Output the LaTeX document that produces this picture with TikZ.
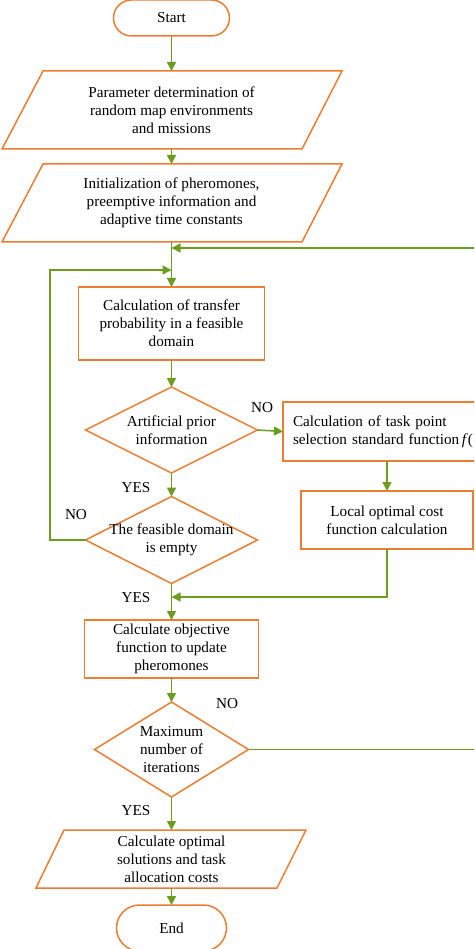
\documentclass[tikz,border=0pt]{standalone}
\usepackage{fontspec}
\setmainfont{Liberation Serif}
\usetikzlibrary{shapes.geometric,arrows.meta}
\definecolor{obr}{RGB}{237,125,49}
\definecolor{grn}{RGB}{107,158,31}
\begin{document}
\begin{tikzpicture}[x=1pt,y=-1pt,
  txt/.style={font=\fontsize{15.2}{18}\selectfont, align=center, inner sep=0pt, outer sep=0pt},
  shp/.style={draw=obr, line width=1.5pt, line join=miter},
  term/.style={txt, draw=obr, line width=1.5pt, rectangle},
  obox/.style={txt, draw=obr, line width=1.5pt, rectangle},
  dia/.style={diamond, draw=obr, line width=1.5pt, inner sep=0pt, outer sep=0pt},
  arr/.style={draw=grn, line width=1.5pt, -{Triangle[length=9pt,width=9pt]}},
  lab/.style={font=\fontsize{15.2}{18}\selectfont, inner sep=0pt}]
\useasboundingbox (0,0) rectangle (474,949);
\clip (0,0) rectangle (474,949);
\fill[white] (0,0) rectangle (474,949);

% Start
\node[term, minimum width=116pt, minimum height=36pt, rounded corners=18pt] (start) at (171.5,18) {Start};

% parallelogram 1
\node[txt, minimum width=250pt, minimum height=78pt] (p1) at (171.5,110) {Parameter determination of\\random map environments\\and missions};
\draw[shp] (43,71) -- (342,71) -- (302,149) -- (2,149) -- cycle;

% parallelogram 2
\node[txt, minimum width=250pt, minimum height=78pt] (p2) at (171.5,203) {Initialization of pheromones,\\preemptive information and\\adaptive time constants};
\draw[shp] (43,164) -- (342,164) -- (302,242) -- (2,242) -- cycle;

% box 3
\node[obox, minimum width=186pt, minimum height=73pt] (b3) at (171.5,323.5) {Calculation of transfer\\probability in a feasible\\domain};

% diamond 1
\node[dia, minimum width=172pt, minimum height=86pt] (d1) at (171.5,430) {};
\node[txt] (d1t) at (d1.center) {Artificial prior\\information};

% box 4
\node[obox, minimum width=208pt, minimum height=59pt, text width=188pt, inner xsep=10pt, align=left] (b4) at (387,431.5) {Calculation of task point\\selection standard function\,\textit{f}(};

% box 5
\node[obox, minimum width=172pt, minimum height=58pt] (b5) at (387,520) {Local optimal cost\\function calculation};

% diamond 2
\node[dia, minimum width=172pt, minimum height=87pt] (d2) at (171.5,540) {};
\node[txt] (d2t) at (d2.center) {The feasible domain\\is empty};

% box 6
\node[obox, minimum width=174pt, minimum height=58pt] (b6) at (171.5,649) {Calculate objective\\function to update\\pheromones};

% diamond 3
\node[dia, minimum width=154pt, minimum height=95pt] (d3) at (171.5,749.5) {};
\node[txt] (d3t) at (d3.center) {Maximum\\number of\\iterations};

% parallelogram 3
\node[txt, minimum width=220pt, minimum height=58pt] (p3) at (171.5,859) {Calculate optimal\\solutions and task\\allocation costs};
\draw[shp] (64,830) -- (306,830) -- (277,888) -- (36,888) -- cycle;

% End
\node[term, minimum width=110pt, minimum height=46pt, rounded corners=23pt] (end) at (171.5,928) {End};

% junction coordinates
\coordinate (j1) at (171.5,248);
\coordinate (j2) at (171.5,270);
\coordinate (j3) at (171.5,597);

% connectors
\draw[arr] (start.south) -- (p1.north);
\draw[arr] (p1.south) -- (p2.north);
\draw[arr] (p2.south) -- (b3.north);
\draw[arr] (d3.east) -- (495,749.5) -- (495,248) -- (j1);
\draw[arr] (d2.west) -- (50,540) -- (50,270) -- (j2);
\draw[arr] (b3.south) -- (d1.north);
\draw[arr] (d1.east) -- (b4.west);
\draw[arr] (d1.south) -- (d2.north);
\draw[arr] (b4.south) -- (b5.north);
\draw[arr] (b5.south) -- (387,597) -- (j3);
\draw[arr] (d2.south) -- (b6.north);
\draw[arr] (b6.south) -- (d3.north);
\draw[arr] (d3.south) -- (p3.north);
\draw[arr] (p3.south) -- (end.north);

% labels
\node[lab] (l1) at (262,408) {NO};
\node[lab] (l2) at (136,488) {YES};
\node[lab] (l3) at (76,515) {NO};
\node[lab] (l4) at (136,598) {YES};
\node[lab] (l5) at (227,704) {NO};
\node[lab] (l6) at (136,811) {YES};
\end{tikzpicture}
\end{document}
